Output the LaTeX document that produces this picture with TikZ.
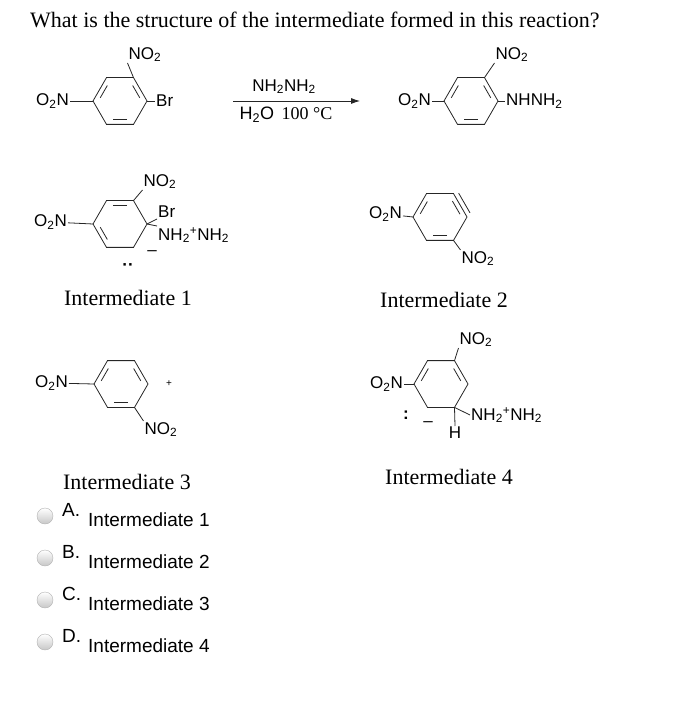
\documentclass[tikz,border=0pt]{standalone}
\usepackage{fontspec}
\setmainfont{Liberation Serif}
\newfontfamily\chemf{Liberation Sans}
\usetikzlibrary{calc,arrows.meta}
\tikzset{
  bond/.style={line width=0.8pt, draw=black!85},
  lab/.style={font=\chemf\fontsize{17}{19}\selectfont, inner sep=1pt},
  captxt/.style={font=\fontsize{22}{26}\selectfont, inner sep=0pt},
  opt/.style={font=\chemf\fontsize{19}{22}\selectfont, inner sep=0pt, anchor=west},
  radio/.style={circle, minimum size=16pt, inner sep=0pt, draw=black!30, top color=white, bottom color=black!22}
}
\newcommand\mkring[3]{%
  \coordinate (#1-C) at (#2,#3);
  \coordinate (#1-L) at (#2-27,#3);
  \coordinate (#1-UL) at (#2-13.5,#3-23.4);
  \coordinate (#1-UR) at (#2+13.5,#3-23.4);
  \coordinate (#1-R) at (#2+27,#3);
  \coordinate (#1-LR) at (#2+13.5,#3+23.4);
  \coordinate (#1-LL) at (#2-13.5,#3+23.4);
  \draw[bond] (#1-L)--(#1-UL)--(#1-UR)--(#1-R)--(#1-LR)--(#1-LL)--cycle;}
\newcommand\dbl[3]{\draw[bond] ($($(#1-#2)!0.17!(#1-#3)$)!0.2!(#1-C)$) -- ($($(#1-#2)!0.83!(#1-#3)$)!0.2!(#1-C)$);}
\begin{document}
\begin{tikzpicture}[x=1pt,y=-1pt]
\useasboundingbox (0,0) rectangle (682,708);
\node[captxt, anchor=west] (title) at (30,20) {What is the structure of the intermediate formed in this reaction?};
% reactant
\mkring{a}{120}{101}
\dbl{a}{L}{UL}\dbl{a}{UR}{R}\dbl{a}{LR}{LL}
\node[lab, anchor=south] (a-no2) at (145,63) {NO\textsubscript{2}};
\draw[bond] (a-UR) -- (a-no2.south west);
\node[lab, anchor=west] (a-br) at (155,101) {Br};
\draw[bond] (a-R) -- (a-br);
\node[lab, anchor=east] (a-o2n) at (70,101) {O\textsubscript{2}N};
\draw[bond] (a-L) -- (a-o2n);
% arrow
\coordinate (arS) at (233,101);
\coordinate (arE) at (360,101);
\draw[bond, -{Latex[length=9pt,width=6pt]}] (arS) -- (arE);
\node[lab, anchor=south] (rg) at (284,95) {NH\textsubscript{2}NH\textsubscript{2}};
\node[lab, anchor=north, font=\fontsize{18}{20}\selectfont] (cond) at (286,106) {{\chemf H\textsubscript{2}O}\ \,100 °C};
% product
\mkring{b}{471}{101}
\dbl{b}{L}{UL}\dbl{b}{UR}{R}\dbl{b}{LR}{LL}
\node[lab, anchor=south] (b-no2) at (512,63) {NO\textsubscript{2}};
\draw[bond] (b-UR) -- (b-no2.south west);
\node[lab, anchor=west] (b-n) at (505,101) {NHNH\textsubscript{2}};
\draw[bond] (b-R) -- (b-n);
\node[lab, anchor=east] (b-o2n) at (432,101) {O\textsubscript{2}N};
\draw[bond] (b-L) -- (b-o2n);
% Intermediate 1
\mkring{c}{120}{224}
\dbl{c}{UL}{UR}\dbl{c}{L}{LL}
\node[lab, anchor=south] (c-no2) at (160,190) {NO\textsubscript{2}};
\draw[bond] (c-UR) -- (c-no2.south west);
\node[lab, anchor=south west] (c-br) at (157,219) {Br};
\draw[bond] (c-R) -- (c-br.south west);
\node[lab, anchor=north west] (c-nn) at (157,226) {NH\textsubscript{2}\textsuperscript{+}NH\textsubscript{2}};
\draw[bond] (c-R) -- (c-nn.north west);
\node[lab, anchor=east] (c-o2n) at (68,222) {O\textsubscript{2}N};
\draw[bond] (c-L) -- (c-o2n);
\node[lab] (c-min) at (152,253) {–};
\node[lab] (c-dots) at (128,267) {\textbf{··}};
\node[captxt] (l1) at (128,298) {Intermediate 1};
% Intermediate 2
\mkring{d}{440}{217}
\dbl{d}{L}{UL}\dbl{d}{LR}{LL}
\draw[bond] ($($(d-UR)!0.15!(d-R)$)!0.2!(d-C)$) -- ($($(d-UR)!0.85!(d-R)$)!0.2!(d-C)$);
\draw[bond] ($($(d-UR)!0.15!(d-R)$)!-0.2!(d-C)$) -- ($($(d-UR)!0.85!(d-R)$)!-0.2!(d-C)$);
\node[lab, anchor=east] (d-o2n) at (403,214) {O\textsubscript{2}N};
\draw[bond] (d-L) -- (d-o2n);
\node[lab, anchor=north] (d-no2) at (478,250) {NO\textsubscript{2}};
\draw[bond] (d-LR) -- (d-no2.north west);
\node[captxt] (l2) at (444,300) {Intermediate 2};
% Intermediate 3
\mkring{e}{121}{384}
\dbl{e}{L}{UL}\dbl{e}{UR}{R}\dbl{e}{LR}{LL}
\node[lab, anchor=east] (e-o2n) at (69,383) {O\textsubscript{2}N};
\draw[bond] (e-L) -- (e-o2n);
\node[lab, anchor=north] (e-no2) at (161,421) {NO\textsubscript{2}};
\draw[bond] (e-LR) -- (e-no2.north west);
\node[lab, font=\chemf\fontsize{10}{12}\selectfont] (e-plus) at (169,384) {+};
\node[captxt] (l3) at (127,482) {Intermediate 3};
% Intermediate 4
\mkring{f}{441}{384}
\dbl{f}{L}{UL}\dbl{f}{UR}{R}
\node[lab, anchor=south] (f-no2) at (476,348) {NO\textsubscript{2}};
\draw[bond] (f-UR) -- (f-no2.south west);
\node[lab, anchor=east] (f-o2n) at (404,384) {O\textsubscript{2}N};
\draw[bond] (f-L) -- (f-o2n);
\node[lab, anchor=west] (f-nn) at (470,415) {NH\textsubscript{2}\textsuperscript{+}NH\textsubscript{2}};
\draw[bond] (f-LR) -- (f-nn.west);
\node[lab, anchor=north] (f-h) at (455,426) {H};
\draw[bond] (f-LR) -- (f-h.north);
\node[lab] (f-col) at (406,415) {\textbf{:}};
\node[lab] (f-min) at (428,424) {–};
\node[captxt] (l4) at (449,477) {Intermediate 4};
% options
\foreach \y/\L/\n in {516/A/1, 558/B/2, 600/C/3, 642/D/4}{
  \node[radio] (r\n) at (45,\y) {};
  \node[opt] (k\n) at (62,\y-6) {\L.};
  \node[opt] (o\n) at (88,\y+4) {Intermediate \n};
}
\end{tikzpicture}
\end{document}
